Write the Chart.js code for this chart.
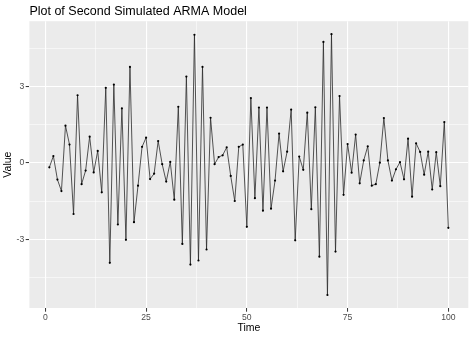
<!DOCTYPE html>
<html><head><meta charset="utf-8">
<script src="https://cdn.jsdelivr.net/npm/chart.js@4/dist/chart.umd.min.js"></script>
<style>html,body{margin:0;padding:0;background:#fff}</style>
</head><body>
<canvas id="c" width="474" height="338"></canvas>
<script>
const chartTitle = "Plot of Second Simulated ARMA Model";
const xLabel = "Time";
const yLabel = "Value";
const values = [
 -0.17, 0.27, -0.65, -1.10, 1.46, 0.72, -2.00, 2.65, -0.83, -0.30,
  1.03, -0.37, 0.47, -1.15, 2.94, -3.91, 3.07, -2.41, 2.14, -3.01,
  3.76, -2.32, -0.89, 0.63, 0.99, -0.63, -0.42, 0.86, -0.05, -0.73,
  0.04, -1.44, 2.20, -3.17, 3.38, -3.98, 5.02, -3.82, 3.76, -3.39,
  1.77, -0.05, 0.23, 0.30, 0.61, -0.51, -1.49, 0.63, 0.72, -2.50,
  2.54, -1.38, 2.17, -1.87, 2.17, -1.79, -0.69, 1.15, -0.33, 0.44,
  2.09, -3.03, 0.25, -0.27, 1.97, -1.81, 2.18, -3.67, 4.74, -5.17,
  5.04, -3.47, 2.62, -1.25, 0.74, -0.38, 1.11, -0.80, 0.10, 0.65,
 -0.89, -0.83, 0.01, 1.76, 0.10, -0.69, -0.25, 0.03, -0.64, 0.95,
 -1.32, 0.77, 0.43, -0.46, 0.44, -1.04, 0.42, -0.91, 1.60, -2.54
];
const time = values.map((v, i) => i + 1);
const xMajor = [0, 25, 50, 75, 100];
const xMinor = [12.5, 37.5, 62.5, 87.5];
const yMajor = [-3, 0, 3];
const yMinor = [-4.5, -1.5, 1.5, 4.5];
const xRange = [-3.95, 104.95];
const yRange = [-5.68, 5.55];

const panelBg = {
  id: 'panelBg',
  beforeDraw(chart) {
    const {ctx, chartArea: a} = chart;
    ctx.save();
    ctx.fillStyle = '#EBEBEB';
    ctx.fillRect(a.left, a.top, a.right - a.left, a.bottom - a.top);
    ctx.restore();
  },
  afterDraw(chart) {
    const {ctx} = chart;
    ctx.save();
    ctx.fillStyle = '#000';
    ctx.font = '12.5px "Liberation Sans", Arial, sans-serif';
    ctx.textBaseline = 'alphabetic';
    ctx.textAlign = 'left';
    ctx.fillText(chartTitle, 29.4, 14.5);
    ctx.restore();
  }
};

const isMajor = (list, v) => list.some(m => Math.abs(m - v) < 1e-6);

new Chart(document.getElementById('c'), {
  type: 'line',
  data: {
    datasets: [{
      data: time.map((t, i) => ({x: t, y: values[i]})),
      borderColor: '#2a2a2a',
      borderWidth: 0.8,
      pointRadius: 1.1,
      pointBackgroundColor: '#000',
      pointBorderWidth: 0,
      tension: 0,
      fill: false
    }]
  },
  options: {
    responsive: false,
    devicePixelRatio: 1,
    animation: false,
    layout: {padding: {left: 0, top: 21.2, right: 5.7, bottom: 0}},
    plugins: {legend: {display: false}, tooltip: {enabled: false}, title: {display: false}},
    scales: {
      x: {
        type: 'linear',
        min: xRange[0], max: xRange[1],
        afterBuildTicks: s => { s.ticks = [...xMajor, ...xMinor].sort((a,b)=>a-b).map(v => ({value: v})); },
        afterFit: s => { s.height = 30; },
        border: {display: false},
        grid: {
          color: '#FFFFFF',
          lineWidth: c => isMajor(xMajor, c.tick.value) ? 1.1 : 0.55,
          tickColor: c => isMajor(xMajor, c.tick.value) ? '#333333' : 'rgba(0,0,0,0)',
          tickLength: 3.7,
          tickWidth: 1
        },
        ticks: {
          autoSkip: false, maxRotation: 0, padding: 1,
          color: '#4D4D4D',
          font: {family: '"Liberation Sans", Arial, sans-serif', size: 8.6},
          callback: v => isMajor(xMajor, v) ? String(v) : ''
        },
        title: {display: true, text: xLabel, color: '#000',
          font: {family: '"Liberation Sans", Arial, sans-serif', size: 10.5},
          padding: {top: 0, bottom: 4}}
      },
      y: {
        type: 'linear',
        min: yRange[0], max: yRange[1],
        afterBuildTicks: s => { s.ticks = [...yMajor, ...yMinor].sort((a,b)=>a-b).map(v => ({value: v})); },
        afterFit: s => { s.width = 29.4; },
        border: {display: false},
        grid: {
          color: '#FFFFFF',
          lineWidth: c => isMajor(yMajor, c.tick.value) ? 1.1 : 0.55,
          tickColor: c => isMajor(yMajor, c.tick.value) ? '#333333' : 'rgba(0,0,0,0)',
          tickLength: 3.7,
          tickWidth: 1
        },
        ticks: {
          autoSkip: false, padding: 1.5,
          color: '#4D4D4D',
          font: {family: '"Liberation Sans", Arial, sans-serif', size: 8.6},
          callback: v => isMajor(yMajor, v) ? String(v) : ''
        },
        title: {display: true, text: yLabel, color: '#000',
          font: {family: '"Liberation Sans", Arial, sans-serif', size: 10.5},
          padding: {top: 2, bottom: 0}}
      }
    }
  },
  plugins: [panelBg]
});
</script>
</body></html>
